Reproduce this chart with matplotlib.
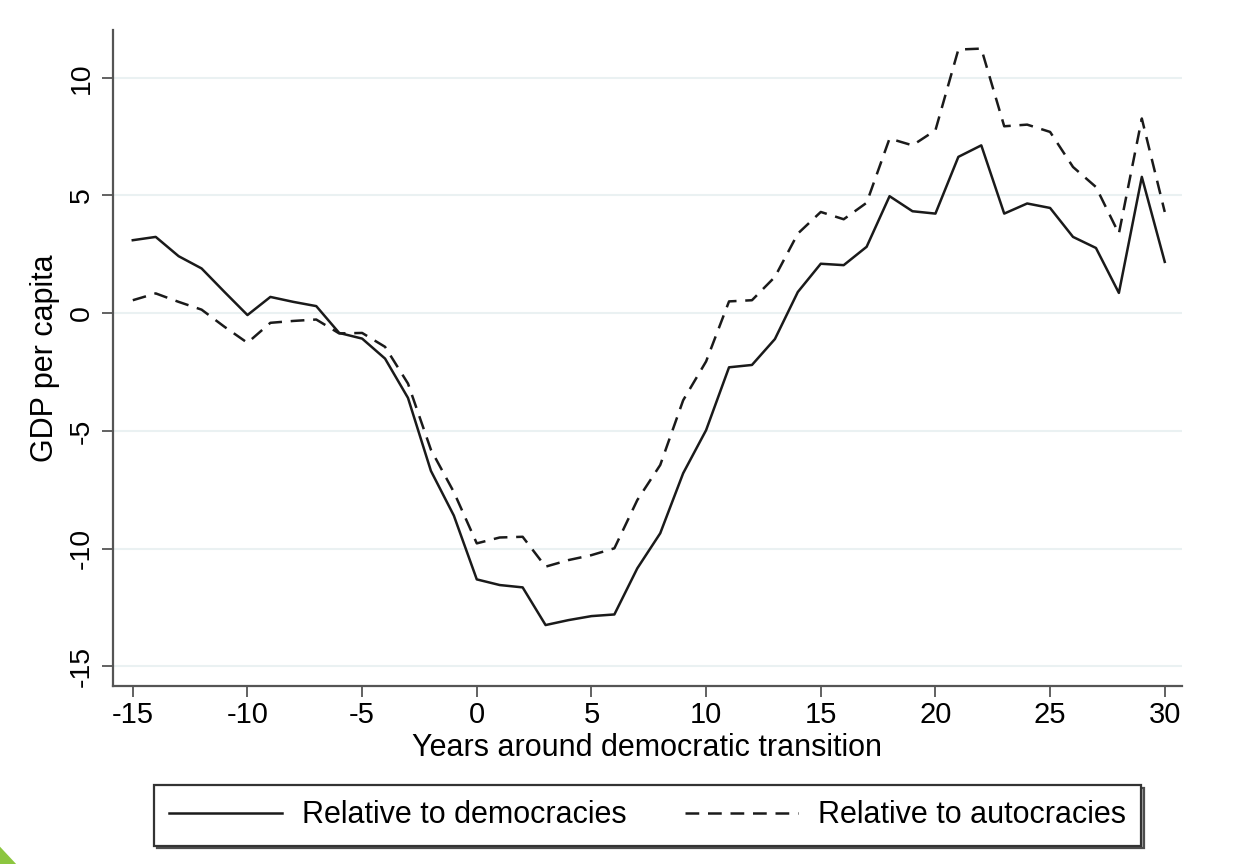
import matplotlib.pyplot as plt
from matplotlib.patches import Polygon

plt.rcParams['font.family'] = ['Liberation Sans', 'DejaVu Sans']
plt.rcParams['axes.unicode_minus'] = False

years = list(range(-15, 31))
democracies = [3.1, 3.24, 2.42, 1.9, 0.9, -0.08, 0.69, 0.48, 0.3, -0.84,
               -1.08, -1.93, -3.6, -6.7, -8.6, -11.31, -11.55, -11.65, -13.25, -13.04,
               -12.87, -12.8, -10.84, -9.35, -6.8, -4.97, -2.3, -2.2, -1.1, 0.9,
               2.1, 2.04, 2.82, 4.97, 4.33, 4.23, 6.64, 7.13, 4.23, 4.66,
               4.47, 3.24, 2.77, 0.86, 5.79, 2.18]
autocracies = [0.55, 0.84, 0.48, 0.15, -0.58, -1.26, -0.41, -0.33, -0.27, -0.86,
               -0.84, -1.43, -2.99, -5.8, -7.6, -9.78, -9.53, -9.5, -10.77, -10.49,
               -10.28, -9.99, -7.94, -6.45, -3.7, -2.05, 0.5, 0.55, 1.54, 3.38,
               4.3, 3.99, 4.69, 7.42, 7.13, 7.77, 11.2, 11.24, 7.94, 8.01,
               7.7, 6.21, 5.36, 3.38, 8.27, 4.3]
xticks = [-15, -10, -5, 0, 5, 10, 15, 20, 25, 30]
yticks = [-15, -10, -5, 0, 5, 10]

fig = plt.figure(figsize=(12.4, 8.64), dpi=100)
ax = fig.add_axes([0.091, 0.206, 0.862, 0.759])

ax.plot(years, democracies, color='#1a1a1a', lw=1.8, label='Relative to democracies')
ax.plot(years, autocracies, color='#1a1a1a', lw=1.8, dashes=(5.5, 3.5), label='Relative to autocracies')

ax.set_xlim(-15.87, 30.74)
ax.set_ylim(-15.84, 12.02)
ax.set_xticks(xticks)
ax.set_yticks(yticks)
for t in yticks:
    ax.axhline(t, color='#eaf1f2', lw=1.5, zorder=0)

ax.tick_params(axis='both', length=8, width=1.3, color='#555555')
ax.tick_params(axis='x', labelsize=21, pad=3)
ax.tick_params(axis='y', labelsize=20.5, pad=5)
plt.setp(ax.get_yticklabels(), rotation=90, va='center')
ax.set_xlabel('Years around democratic transition', fontsize=22, labelpad=3)
ax.set_ylabel('GDP per capita', fontsize=22, labelpad=6)

for s in ['top', 'right']:
    ax.spines[s].set_visible(False)
for s in ['left', 'bottom']:
    ax.spines[s].set_color('#555555')
    ax.spines[s].set_linewidth(1.6)

leg = ax.legend(loc='upper center', bbox_to_anchor=(0.5, -0.151), borderaxespad=0, ncol=2,
                fontsize=22, frameon=True, fancybox=False,
                shadow={'facecolor': '#b0b0b0', 'alpha': 1}, edgecolor='#333333',
                handlelength=3.7, handletextpad=0.65, columnspacing=1.9, borderpad=0.5)
leg.get_frame().set_linewidth(1.6)

fig.patches.append(Polygon([[0, 0], [0.013, 0], [0, 0.02]], closed=True,
                           transform=fig.transFigure, facecolor='#8cc63f', edgecolor='none'))

fig.savefig('out.png', dpi=100)
